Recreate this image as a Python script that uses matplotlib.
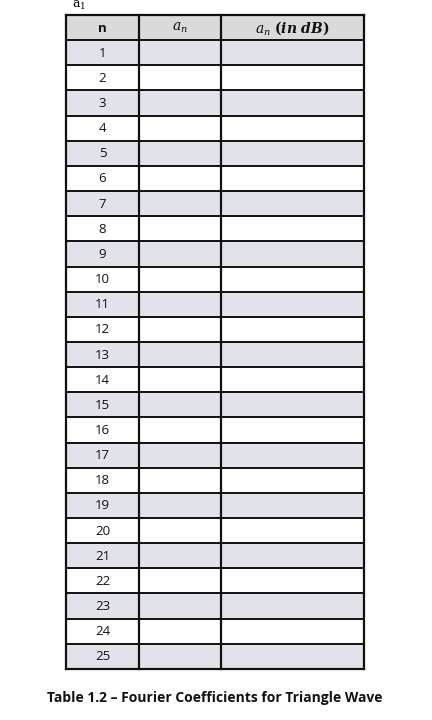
import matplotlib
matplotlib.use("Agg")
import matplotlib.pyplot as plt
from matplotlib.patches import Rectangle

plt.rcParams["mathtext.fontset"] = "dejavuserif"

headers = ["n", r"$\boldsymbol{a_n}$", r"$\boldsymbol{a_n\ (in\ dB)}$"]
n_values = list(range(1, 26))
a_n = [""] * 25
a_n_db = [""] * 25
caption = "Table 1.2 – Fourier Coefficients for Triangle Wave"

fig = plt.figure(figsize=(4.32, 7.2), dpi=100)
ax = fig.add_axes([0, 0, 1, 1])
ax.set_xlim(0, 432); ax.set_ylim(720, 0); ax.axis("off")

col_x = [66, 139, 221, 364]
top, row_h = 15, 25.15
ax.text(72, 5, r"$\mathrm{a_1}$", fontsize=9, va="center", ha="left")

rows = [headers] + [[str(n), a, d] for n, a, d in zip(n_values, a_n, a_n_db)]
for i, row in enumerate(rows):
    y = top + i * row_h
    if i == 0:
        fc = "#dadada"
    elif i % 2 == 1:
        fc = "#e2e2ea"
    else:
        fc = "white"
    ax.add_patch(Rectangle((col_x[0], y), col_x[-1] - col_x[0], row_h, fc=fc, ec="none"))
    for j, txt in enumerate(row):
        cx = (col_x[j] + col_x[j + 1]) / 2
        ax.text(cx, y + row_h / 2 + 0.5, txt, ha="center", va="center",
                fontsize=10 if i == 0 and j > 0 else 9.5, family="Open Sans",
                fontweight="bold" if i == 0 else "normal", color="#111111")
for i in range(len(rows) + 1):
    y = top + i * row_h
    ax.plot([col_x[0], col_x[-1]], [y, y], color="#111111", lw=1.6 if i in (0, len(rows)) else 1.4)
for x in col_x:
    ax.plot([x, x], [top, top + len(rows) * row_h], color="#111111", lw=1.6)

ax.text(215, 698, caption, ha="center", va="center", fontsize=10,
        fontweight="bold", family="Open Sans", color="#111111")
fig.savefig("out.png", dpi=100)
